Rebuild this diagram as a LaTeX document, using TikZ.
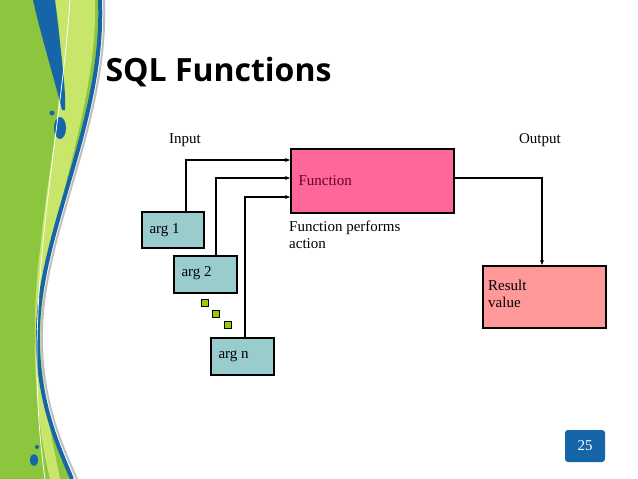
\documentclass[tikz,border=0pt]{standalone}
\usepackage{fontspec}
\setmainfont{Liberation Serif}
\newfontfamily\titlefont{Open Sans}
\usetikzlibrary{arrows.meta}
\definecolor{teal1}{HTML}{99CCCC}
\definecolor{pink1}{HTML}{FF6699}
\definecolor{rose1}{HTML}{FF9999}
\definecolor{lime1}{HTML}{8CC63F}
\definecolor{lime2}{HTML}{C8E66A}
\definecolor{blue1}{HTML}{1565A8}
\definecolor{sq}{HTML}{99CC00}
\begin{document}
\begin{tikzpicture}[x=1pt,y=-1pt,
  box/.style={draw=black,line width=2pt,anchor=north west,inner sep=0pt},
  lab/.style={font=\fontsize{15}{17}\selectfont},
  con/.style={line width=1.5pt,-{Stealth[length=5pt,width=4pt]}}]
\useasboundingbox (0,0) rectangle (638,479);
\fill[white] (0,0) rectangle (638,479);
% left decoration
\fill[lime1] (0,0) -- (100,0) .. controls (105,120) and (40,230) .. (38,330) .. controls (36,400) and (60,450) .. (72,479) -- (0,479) -- cycle;
\fill[lime2] (55,0) -- (95,0) .. controls (98,110) and (45,220) .. (42,320) .. controls (40,400) and (55,450) .. (60,479) -- (50,479) .. controls (35,420) and (30,330) .. (40,250) .. controls (50,150) and (70,80) .. cycle;
\draw[blue1,line width=4pt] (100,0) .. controls (105,120) and (40,230) .. (38,330) .. controls (36,400) and (60,450) .. (72,479);
\draw[gray!50,line width=2pt] (104,0) .. controls (109,120) and (44,230) .. (42,330) .. controls (40,400) and (64,450) .. (77,479);
\fill[blue1] (33,0) -- (55,0) .. controls (62,60) and (66,90) .. (65,110) -- (62,110) .. controls (52,70) and (42,40) .. cycle;
\fill[blue1] (60,128) ellipse (6pt and 11pt);
\fill[blue1] (52,113) circle (2.5pt);
\fill[blue1] (34,460) ellipse (4pt and 6pt);
\fill[blue1] (37,447) circle (2pt);
\draw[white,line width=0.8pt] (70,0) .. controls (60,150) and (20,300) .. (45,479);
% title
\node[anchor=west,font=\titlefont\bfseries\fontsize{32}{36}\selectfont] (title) at (102,72) {SQL Functions};
% connectors
\coordinate (e1) at (290,160);
\coordinate (e2) at (290,178);
\coordinate (e3) at (290,197);
% boxes
\node[box,fill=teal1,minimum width=62pt,minimum height=36pt] (a1) at (141,211) {};
\node[lab,anchor=west] at (146,230) {arg 1};
\node[box,fill=teal1,minimum width=63pt,minimum height=37pt] (a2) at (173,255) {};
\node[lab,anchor=west] at (178,273) {arg 2};
\node[box,fill=teal1,minimum width=63pt,minimum height=37pt] (an) at (210,337) {};
\node[lab,anchor=west] at (215,356) {arg n};
\node[box,fill=pink1,minimum width=163pt,minimum height=64pt] (f) at (290,148) {};
\node[lab,anchor=west,text={rgb,255:red,100;green,0;blue,40}] at (295,181) {Function};
\node[box,fill=rose1,minimum width=123pt,minimum height=62pt] (r) at (482,265) {};
\node[lab,anchor=north west,align=left,inner sep=0pt] at (488,280) {Result\\value};
\node[lab,anchor=north west,align=left,inner sep=0pt] (fp) at (289,221) {Function performs\\action};
\node[lab] (in) at (185,140) {Input};
\node[lab] (out) at (540,140) {Output};
\draw[con] (a1.north -| 186,0) |- (e1);
\draw[con] (a2.north -| 216,0) |- (e2);
\draw[con] (an.north -| 245,0) |- (e3);
\draw[con] (f.east |- e2) -| (r.north -| 542,0);
% squares
\foreach \p in {(205,303),(216,314),(228,325)} \draw[fill=sq,line width=1.2pt] \p ++(-3.5,-3.5) rectangle ++(7,7);
% page number
\node[fill=blue1,rounded corners=3pt,minimum width=40pt,minimum height=32pt,text=white,font=\fontsize{15}{17}\selectfont] (pg) at (585,446) {25};
\end{tikzpicture}
\end{document}
